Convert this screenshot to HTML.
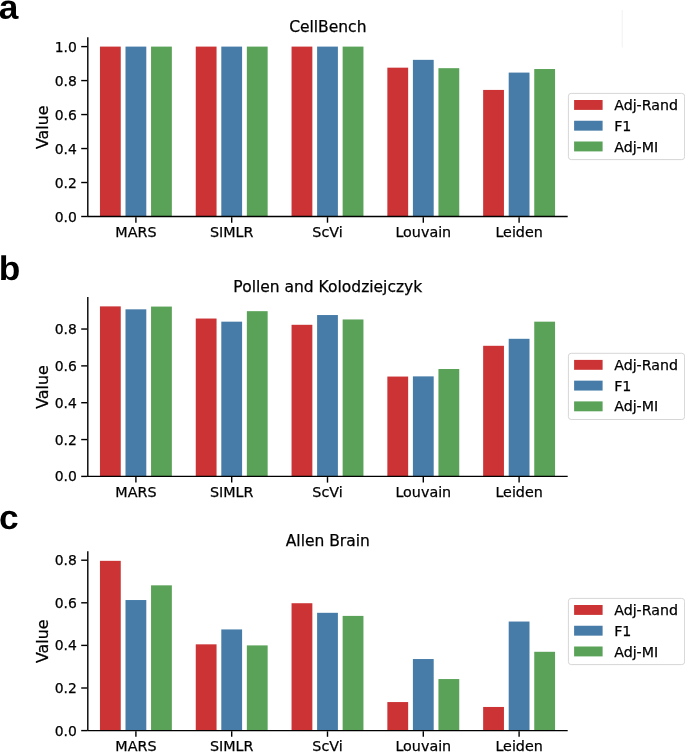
<!DOCTYPE html>
<html lang="en"><head><meta charset="utf-8"><title>Clustering benchmark figure</title>
<style>
html,body{margin:0;padding:0;background:#fff;}
body{width:685px;height:752px;overflow:hidden;}
svg{display:block;}
text{font-family:"DejaVu Sans","Liberation Sans",sans-serif;fill:#000;stroke:#000;stroke-width:0.25px;}
.pl{font-family:"Liberation Sans",Arial,Helvetica,sans-serif;font-weight:bold;font-size:34.1px;fill:#000;stroke:none;}
.tk{font-size:13.9px;}
.xt{font-size:14.3px;}
.lab{font-size:15.9px;}
.tit{font-size:15.5px;}
.leg{font-size:14.2px;}
</style></head><body>
<svg width="685" height="752" viewBox="0 0 685 752">
<rect width="685" height="752" fill="#ffffff"/>
<line x1="622.2" y1="10" x2="622.2" y2="47.5" stroke="#f1f1f1" stroke-width="1"/>

<g>
<text class="pl" transform="translate(-1.2 18.7) scale(1.035 1) rotate(0.03)">a</text>
<text class="tit" x="327.80" y="32.10" text-anchor="middle">CellBench</text>
<rect x="99.95" y="46.60" width="20.8" height="169.90" fill="#cb3335"/>
<rect x="125.50" y="46.60" width="20.8" height="169.90" fill="#477ca8"/>
<rect x="151.05" y="46.60" width="20.8" height="169.90" fill="#59a257"/>
<rect x="195.75" y="46.60" width="20.8" height="169.90" fill="#cb3335"/>
<rect x="221.30" y="46.60" width="20.8" height="169.90" fill="#477ca8"/>
<rect x="246.85" y="46.60" width="20.8" height="169.90" fill="#59a257"/>
<rect x="291.55" y="46.60" width="20.8" height="169.90" fill="#cb3335"/>
<rect x="317.10" y="46.60" width="20.8" height="169.90" fill="#477ca8"/>
<rect x="342.65" y="46.60" width="20.8" height="169.90" fill="#59a257"/>
<rect x="387.35" y="67.67" width="20.8" height="148.83" fill="#cb3335"/>
<rect x="412.90" y="59.85" width="20.8" height="156.65" fill="#477ca8"/>
<rect x="438.45" y="68.18" width="20.8" height="148.32" fill="#59a257"/>
<rect x="483.15" y="89.92" width="20.8" height="126.58" fill="#cb3335"/>
<rect x="508.70" y="72.59" width="20.8" height="143.91" fill="#477ca8"/>
<rect x="534.25" y="69.03" width="20.8" height="147.47" fill="#59a257"/>
<path d="M87.8 38.0V216.5H567.0" fill="none" stroke="#000" stroke-width="1.4" stroke-linecap="square"/>
<line x1="81.2" y1="216.50" x2="87.1" y2="216.50" stroke="#000" stroke-width="1.4"/>
<text class="tk" x="76.80" y="221.50" text-anchor="end">0.0</text>
<line x1="81.2" y1="182.52" x2="87.1" y2="182.52" stroke="#000" stroke-width="1.4"/>
<text class="tk" x="76.80" y="187.52" text-anchor="end">0.2</text>
<line x1="81.2" y1="148.54" x2="87.1" y2="148.54" stroke="#000" stroke-width="1.4"/>
<text class="tk" x="76.80" y="153.54" text-anchor="end">0.4</text>
<line x1="81.2" y1="114.56" x2="87.1" y2="114.56" stroke="#000" stroke-width="1.4"/>
<text class="tk" x="76.80" y="119.56" text-anchor="end">0.6</text>
<line x1="81.2" y1="80.58" x2="87.1" y2="80.58" stroke="#000" stroke-width="1.4"/>
<text class="tk" x="76.80" y="85.58" text-anchor="end">0.8</text>
<line x1="81.2" y1="46.60" x2="87.1" y2="46.60" stroke="#000" stroke-width="1.4"/>
<text class="tk" x="76.80" y="51.60" text-anchor="end">1.0</text>
<line x1="135.90" y1="217.2" x2="135.90" y2="222.7" stroke="#000" stroke-width="1.4"/>
<text class="xt" x="135.90" y="237.20" text-anchor="middle">MARS</text>
<line x1="231.70" y1="217.2" x2="231.70" y2="222.7" stroke="#000" stroke-width="1.4"/>
<text class="xt" x="231.70" y="237.20" text-anchor="middle">SIMLR</text>
<line x1="327.50" y1="217.2" x2="327.50" y2="222.7" stroke="#000" stroke-width="1.4"/>
<text class="xt" x="327.50" y="237.20" text-anchor="middle">ScVi</text>
<line x1="423.30" y1="217.2" x2="423.30" y2="222.7" stroke="#000" stroke-width="1.4"/>
<text class="xt" x="423.30" y="237.20" text-anchor="middle">Louvain</text>
<line x1="519.10" y1="217.2" x2="519.10" y2="222.7" stroke="#000" stroke-width="1.4"/>
<text class="xt" x="519.10" y="237.20" text-anchor="middle">Leiden</text>
<text class="lab" transform="translate(48.3 127.25) rotate(-90)" text-anchor="middle">Value</text>
<rect x="568.4" y="93.40" width="116.2" height="66.2" rx="2.8" ry="2.8" fill="#fff" stroke="#d6d6d6" stroke-width="1"/>
<rect x="574.1" y="100.00" width="28.5" height="9.9" fill="#cb3335"/>
<text class="leg" x="614.2" y="110.00">Adj-Rand</text>
<rect x="574.1" y="120.75" width="28.5" height="9.9" fill="#477ca8"/>
<text class="leg" x="614.2" y="130.75">F1</text>
<rect x="574.1" y="141.50" width="28.5" height="9.9" fill="#59a257"/>
<text class="leg" x="614.2" y="151.50">Adj-MI</text>
</g>
<g>
<text class="pl" transform="translate(-1.2 280.1) scale(1.035 1) rotate(0.03)">b</text>
<text class="tit" x="327.80" y="291.80" text-anchor="middle">Pollen and Kolodziejczyk</text>
<rect x="99.95" y="306.38" width="20.8" height="170.02" fill="#cb3335"/>
<rect x="125.50" y="309.33" width="20.8" height="167.07" fill="#477ca8"/>
<rect x="151.05" y="306.57" width="20.8" height="169.83" fill="#59a257"/>
<rect x="195.75" y="318.54" width="20.8" height="157.86" fill="#cb3335"/>
<rect x="221.30" y="321.67" width="20.8" height="154.73" fill="#477ca8"/>
<rect x="246.85" y="311.17" width="20.8" height="165.23" fill="#59a257"/>
<rect x="291.55" y="324.80" width="20.8" height="151.60" fill="#cb3335"/>
<rect x="317.10" y="315.04" width="20.8" height="161.36" fill="#477ca8"/>
<rect x="342.65" y="319.46" width="20.8" height="156.94" fill="#59a257"/>
<rect x="387.35" y="376.56" width="20.8" height="99.84" fill="#cb3335"/>
<rect x="412.90" y="376.38" width="20.8" height="100.02" fill="#477ca8"/>
<rect x="438.45" y="369.01" width="20.8" height="107.39" fill="#59a257"/>
<rect x="483.15" y="345.80" width="20.8" height="130.60" fill="#cb3335"/>
<rect x="508.70" y="338.80" width="20.8" height="137.60" fill="#477ca8"/>
<rect x="534.25" y="321.67" width="20.8" height="154.73" fill="#59a257"/>
<path d="M87.8 297.7V476.4H567.0" fill="none" stroke="#000" stroke-width="1.4" stroke-linecap="square"/>
<line x1="81.2" y1="476.40" x2="87.1" y2="476.40" stroke="#000" stroke-width="1.4"/>
<text class="tk" x="76.80" y="481.40" text-anchor="end">0.0</text>
<line x1="81.2" y1="439.56" x2="87.1" y2="439.56" stroke="#000" stroke-width="1.4"/>
<text class="tk" x="76.80" y="444.56" text-anchor="end">0.2</text>
<line x1="81.2" y1="402.72" x2="87.1" y2="402.72" stroke="#000" stroke-width="1.4"/>
<text class="tk" x="76.80" y="407.72" text-anchor="end">0.4</text>
<line x1="81.2" y1="365.88" x2="87.1" y2="365.88" stroke="#000" stroke-width="1.4"/>
<text class="tk" x="76.80" y="370.88" text-anchor="end">0.6</text>
<line x1="81.2" y1="329.04" x2="87.1" y2="329.04" stroke="#000" stroke-width="1.4"/>
<text class="tk" x="76.80" y="334.04" text-anchor="end">0.8</text>
<line x1="135.90" y1="477.09999999999997" x2="135.90" y2="482.59999999999997" stroke="#000" stroke-width="1.4"/>
<text class="xt" x="135.90" y="497.10" text-anchor="middle">MARS</text>
<line x1="231.70" y1="477.09999999999997" x2="231.70" y2="482.59999999999997" stroke="#000" stroke-width="1.4"/>
<text class="xt" x="231.70" y="497.10" text-anchor="middle">SIMLR</text>
<line x1="327.50" y1="477.09999999999997" x2="327.50" y2="482.59999999999997" stroke="#000" stroke-width="1.4"/>
<text class="xt" x="327.50" y="497.10" text-anchor="middle">ScVi</text>
<line x1="423.30" y1="477.09999999999997" x2="423.30" y2="482.59999999999997" stroke="#000" stroke-width="1.4"/>
<text class="xt" x="423.30" y="497.10" text-anchor="middle">Louvain</text>
<line x1="519.10" y1="477.09999999999997" x2="519.10" y2="482.59999999999997" stroke="#000" stroke-width="1.4"/>
<text class="xt" x="519.10" y="497.10" text-anchor="middle">Leiden</text>
<text class="lab" transform="translate(48.3 387.05) rotate(-90)" text-anchor="middle">Value</text>
<rect x="568.4" y="353.30" width="116.2" height="66.2" rx="2.8" ry="2.8" fill="#fff" stroke="#d6d6d6" stroke-width="1"/>
<rect x="574.1" y="359.90" width="28.5" height="9.9" fill="#cb3335"/>
<text class="leg" x="614.2" y="369.90">Adj-Rand</text>
<rect x="574.1" y="380.65" width="28.5" height="9.9" fill="#477ca8"/>
<text class="leg" x="614.2" y="390.65">F1</text>
<rect x="574.1" y="401.40" width="28.5" height="9.9" fill="#59a257"/>
<text class="leg" x="614.2" y="411.40">Adj-MI</text>
</g>
<g>
<text class="pl" transform="translate(-0.9 529.0) scale(1.035 1) rotate(0.03)">c</text>
<text class="tit" x="327.80" y="546.10" text-anchor="middle">Allen Brain</text>
<rect x="99.95" y="560.84" width="20.8" height="169.76" fill="#cb3335"/>
<rect x="125.50" y="600.03" width="20.8" height="130.57" fill="#477ca8"/>
<rect x="151.05" y="585.33" width="20.8" height="145.27" fill="#59a257"/>
<rect x="195.75" y="644.34" width="20.8" height="86.26" fill="#cb3335"/>
<rect x="221.30" y="629.43" width="20.8" height="101.17" fill="#477ca8"/>
<rect x="246.85" y="645.40" width="20.8" height="85.20" fill="#59a257"/>
<rect x="291.55" y="603.23" width="20.8" height="127.37" fill="#cb3335"/>
<rect x="317.10" y="612.81" width="20.8" height="117.79" fill="#477ca8"/>
<rect x="342.65" y="615.90" width="20.8" height="114.70" fill="#59a257"/>
<rect x="387.35" y="702.06" width="20.8" height="28.54" fill="#cb3335"/>
<rect x="412.90" y="659.03" width="20.8" height="71.57" fill="#477ca8"/>
<rect x="438.45" y="679.05" width="20.8" height="51.55" fill="#59a257"/>
<rect x="483.15" y="706.96" width="20.8" height="23.64" fill="#cb3335"/>
<rect x="508.70" y="621.54" width="20.8" height="109.06" fill="#477ca8"/>
<rect x="534.25" y="651.79" width="20.8" height="78.81" fill="#59a257"/>
<path d="M87.8 552.0V730.6H567.0" fill="none" stroke="#000" stroke-width="1.4" stroke-linecap="square"/>
<line x1="81.2" y1="730.60" x2="87.1" y2="730.60" stroke="#000" stroke-width="1.4"/>
<text class="tk" x="76.80" y="735.60" text-anchor="end">0.0</text>
<line x1="81.2" y1="688.00" x2="87.1" y2="688.00" stroke="#000" stroke-width="1.4"/>
<text class="tk" x="76.80" y="693.00" text-anchor="end">0.2</text>
<line x1="81.2" y1="645.40" x2="87.1" y2="645.40" stroke="#000" stroke-width="1.4"/>
<text class="tk" x="76.80" y="650.40" text-anchor="end">0.4</text>
<line x1="81.2" y1="602.80" x2="87.1" y2="602.80" stroke="#000" stroke-width="1.4"/>
<text class="tk" x="76.80" y="607.80" text-anchor="end">0.6</text>
<line x1="81.2" y1="560.20" x2="87.1" y2="560.20" stroke="#000" stroke-width="1.4"/>
<text class="tk" x="76.80" y="565.20" text-anchor="end">0.8</text>
<line x1="135.90" y1="731.3000000000001" x2="135.90" y2="736.8000000000001" stroke="#000" stroke-width="1.4"/>
<text class="xt" x="135.90" y="751.30" text-anchor="middle">MARS</text>
<line x1="231.70" y1="731.3000000000001" x2="231.70" y2="736.8000000000001" stroke="#000" stroke-width="1.4"/>
<text class="xt" x="231.70" y="751.30" text-anchor="middle">SIMLR</text>
<line x1="327.50" y1="731.3000000000001" x2="327.50" y2="736.8000000000001" stroke="#000" stroke-width="1.4"/>
<text class="xt" x="327.50" y="751.30" text-anchor="middle">ScVi</text>
<line x1="423.30" y1="731.3000000000001" x2="423.30" y2="736.8000000000001" stroke="#000" stroke-width="1.4"/>
<text class="xt" x="423.30" y="751.30" text-anchor="middle">Louvain</text>
<line x1="519.10" y1="731.3000000000001" x2="519.10" y2="736.8000000000001" stroke="#000" stroke-width="1.4"/>
<text class="xt" x="519.10" y="751.30" text-anchor="middle">Leiden</text>
<text class="lab" transform="translate(48.3 641.30) rotate(-90)" text-anchor="middle">Value</text>
<rect x="568.4" y="598.40" width="116.2" height="66.2" rx="2.8" ry="2.8" fill="#fff" stroke="#d6d6d6" stroke-width="1"/>
<rect x="574.1" y="605.00" width="28.5" height="9.9" fill="#cb3335"/>
<text class="leg" x="614.2" y="615.00">Adj-Rand</text>
<rect x="574.1" y="625.75" width="28.5" height="9.9" fill="#477ca8"/>
<text class="leg" x="614.2" y="635.75">F1</text>
<rect x="574.1" y="646.50" width="28.5" height="9.9" fill="#59a257"/>
<text class="leg" x="614.2" y="656.50">Adj-MI</text>
</g>
</svg></body></html>
